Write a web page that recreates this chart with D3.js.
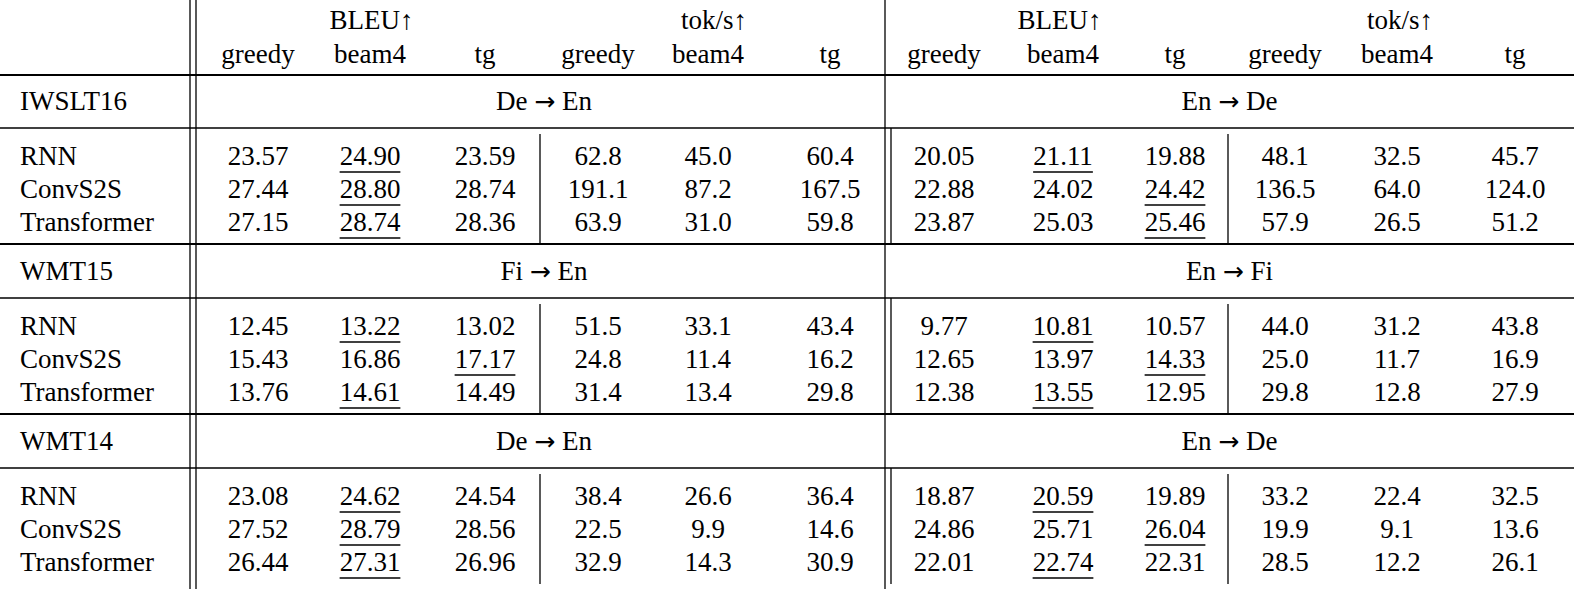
<!DOCTYPE html>
<html><head><meta charset="utf-8">
<script src="https://cdn.jsdelivr.net/npm/d3@7"></script>
<style>body{margin:0;background:#fff}</style></head>
<body><svg id="c" width="1574" height="589"></svg>
<script>
const metrics = ["BLEU↑","tok/s↑","BLEU↑","tok/s↑"];
const decoders = ["greedy","beam4","tg","greedy","beam4","tg","greedy","beam4","tg","greedy","beam4","tg"];
const datasets = ["IWSLT16","WMT15","WMT14"];
const directions = [[["De","En"],["En","De"]],[["Fi","En"],["En","Fi"]],[["De","En"],["En","De"]]];
const models = ["RNN","ConvS2S","Transformer"];
const values = [
 [["23.57","24.90","23.59","62.8","45.0","60.4","20.05","21.11","19.88","48.1","32.5","45.7"],
  ["27.44","28.80","28.74","191.1","87.2","167.5","22.88","24.02","24.42","136.5","64.0","124.0"],
  ["27.15","28.74","28.36","63.9","31.0","59.8","23.87","25.03","25.46","57.9","26.5","51.2"]],
 [["12.45","13.22","13.02","51.5","33.1","43.4","9.77","10.81","10.57","44.0","31.2","43.8"],
  ["15.43","16.86","17.17","24.8","11.4","16.2","12.65","13.97","14.33","25.0","11.7","16.9"],
  ["13.76","14.61","14.49","31.4","13.4","29.8","12.38","13.55","12.95","29.8","12.8","27.9"]],
 [["23.08","24.62","24.54","38.4","26.6","36.4","18.87","20.59","19.89","33.2","22.4","32.5"],
  ["27.52","28.79","28.56","22.5","9.9","14.6","24.86","25.71","26.04","19.9","9.1","13.6"],
  ["26.44","27.31","26.96","32.9","14.3","30.9","22.01","22.74","22.31","28.5","12.2","26.1"]]];
const underlined = [[[1,7],[1,8],[1,8]],[[1,7],[2,8],[1,7]],[[1,7],[1,8],[1,7]]];

const svg = d3.select("#c");
const F = "Liberation Serif, Times New Roman, serif";
const colX = d3.scaleOrdinal().domain(d3.range(12)).range([258,370,485,598,708,830,944,1063,1175,1285,1397,1515]);
const txt = (x,y,s,anchor="middle") => svg.append("text").attr("x",x).attr("y",y).attr("text-anchor",anchor)
  .attr("font-family",F).attr("font-size",27).attr("fill","#000").text(s);
const line = (x1,y1,x2,y2,w=1.3) => svg.append("line").attr("x1",x1).attr("y1",y1).attr("x2",x2).attr("y2",y2)
  .attr("stroke","#000").attr("stroke-width",w);
const dir = (x,y,pair) => {
  const t=svg.append("text").attr("x",x).attr("y",y).attr("text-anchor","middle")
    .attr("font-family",F).attr("font-size",27).attr("fill","#000");
  t.append("tspan").text(pair[0]+" ");
  t.append("tspan").attr("font-family","DejaVu Sans").attr("font-size",25).text("→");
  t.append("tspan").text(" "+pair[1]);
};

metrics.forEach((m,i)=>txt((colX(i*3)+colX(i*3+2))/2,29,m));
decoders.forEach((d,i)=>txt(colX(i),63,d));
line(0,75,1574,75,2);

const groupY=[110,280,450];
datasets.forEach((ds,g)=>{
  const gy=groupY[g];
  txt(20,gy,ds,"start");
  dir((colX(0)+colX(5))/2,gy,directions[g][0]);
  dir((colX(6)+colX(11))/2,gy,directions[g][1]);
  line(0,gy+18,1574,gy+18,1.3);
  models.forEach((md,r)=>{
    const y=gy+55+r*33;
    txt(20,y,md,"start");
    values[g][r].forEach((v,c)=>{
      const t=txt(colX(c),y,v);
      if(underlined[g][r].includes(c)){
        const w=t.node().getComputedTextLength();
        line(colX(c)-w/2,y+7,colX(c)+w/2,y+7,1.3);
      }
    });
  });
  const top=gy+18, bot=gy+55+2*33+13;
  line(540,top+6,540,bot);
  line(1228,top+6,1228,bot);
  line(891,top,891,bot);
  if(g<2) line(0,bot,1574,bot,2);
});
line(190,0,190,589); line(196,0,196,589); line(885,0,885,589);
</script></body></html>
